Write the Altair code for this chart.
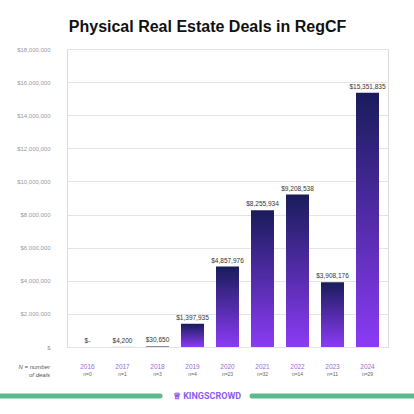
import altair as alt
import pandas as pd

years = ["2016", "2017", "2018", "2019", "2020", "2021", "2022", "2023", "2024"]
values = [0, 4200, 30650, 1397935, 4857976, 8255934, 9208538, 3908176, 15351835]
value_labels = ["$-", "$4,200", "$30,650", "$1,397,935", "$4,857,976", "$8,255,934",
                "$9,208,538", "$3,908,176", "$15,351,835"]
deal_counts = ["n=0", "n=1", "n=3", "n=4", "n=23", "n=32", "n=14", "n=11", "n=29"]
y_ticks = [0, 2000000, 4000000, 6000000, 8000000, 10000000, 12000000, 14000000, 16000000, 18000000]

df = pd.DataFrame({"year": years, "value": values, "label": value_labels, "deals": deal_counts})

FONT = "Liberation Sans"

x_enc = alt.X(
    "year:N",
    sort=years,
    scale=alt.Scale(paddingInner=0.343, paddingOuter=0.257),
    axis=alt.Axis(title=None, labelAngle=0, labelColor="#9b6bd8", labelFontSize=6.5,
                  labelPadding=16, domain=False, ticks=False, labelFont=FONT),
)
y_enc = alt.Y(
    "value:Q",
    scale=alt.Scale(domain=[0, 18000000], nice=False),
    axis=alt.Axis(title=None, values=y_ticks, tickCount=10,
                  labelExpr="datum.value == 0 ? '$' : '$' + format(datum.value, ',')",
                  labelColor="#9a9a9a", labelFontSize=6, labelPadding=17,
                  labelOverlap=False, labelBound=False, labelFlush=False,
                  domain=False, ticks=False, gridColor="#e4e4e4", gridWidth=1,
                  labelFont=FONT),
)

base = alt.Chart(df)

bars = base.mark_bar(
    color={
        "gradient": "linear", "x1": 0, "y1": 0, "x2": 0, "y2": 1,
        "stops": [{"offset": 0, "color": "#191c5b"}, {"offset": 1, "color": "#8b3bf5"}],
    }
).encode(x=x_enc, y=y_enc)

vals = base.mark_text(baseline="bottom", dy=-3, fontSize=6.5, color="#333333", font=FONT).encode(
    x=alt.X("year:N", sort=years), y="value:Q", text="label:N"
)

deals = base.mark_text(baseline="middle", fontSize=5, color="#666666", font=FONT).encode(
    x=alt.X("year:N", sort=years), y=alt.value(325), text="deals:N"
)

note_df = pd.DataFrame({"t": [["N = number", "of deals"]]})
note = alt.Chart(note_df).mark_text(
    align="right", baseline="middle", fontSize=6, fontStyle="italic", color="#555555",
    font=FONT, lineHeight=8
).encode(x=alt.value(-17), y=alt.value(318), text="t")

green_df = pd.DataFrame({"a": [-67, 185], "b": [93, 347]})
green = alt.Chart(green_df).mark_rule(color="#5cb98c", strokeWidth=5, strokeCap="round").encode(
    x=alt.X("a:Q", scale=None), x2="b:Q", y=alt.value(347)
)

logo_df = pd.DataFrame({"t": ["♕ KINGSCROWD"]})
logo = alt.Chart(logo_df).mark_text(
    fontSize=9, fontWeight="bold", color="#8a5cf0", font="Roboto", baseline="middle"
).encode(x=alt.value(140), y=alt.value(347), text="t")

chart = alt.layer(bars, vals, deals, note, green, logo).properties(
    width=321, height=298,
    autosize=alt.AutoSizeParams(type="none"),
    padding={"left": 67, "top": 49, "right": 26, "bottom": 67},
    title=alt.TitleParams("Physical Real Estate Deals in RegCF", fontSize=16, fontWeight="bold",
                          color="#111111", anchor="middle", frame="group", dx=-20, offset=11,
                          font=FONT),
).configure_view(stroke=None).configure(background="white")

chart.save("out.html", embed_options={"renderer": "svg", "actions": False})
